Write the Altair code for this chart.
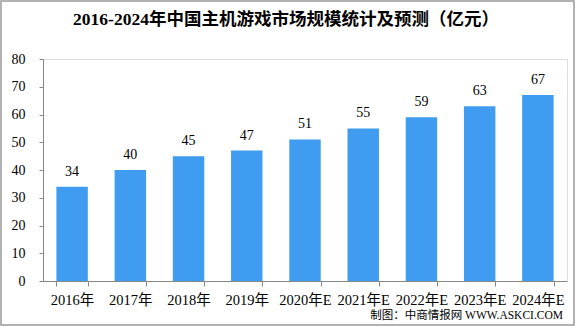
import altair as alt
import pandas as pd

years = ["2016年", "2017年", "2018年", "2019年", "2020年E", "2021年E", "2022年E", "2023年E", "2024年E"]
values = [34, 40, 45, 47, 51, 55, 59, 63, 67]
y_ticks = [0, 10, 20, 30, 40, 50, 60, 70, 80]

df = pd.DataFrame({"year": years, "value": values})

W, H = 524, 222
PL, PT, PR, PB = 43, 59, 8, 45
FONT = "Liberation Serif, Noto Sans CJK SC"

x_enc = alt.X("year:N", sort=years, title=None,
              scale=alt.Scale(paddingInner=0.46, paddingOuter=0.23),
              axis=alt.Axis(labelAngle=0, labelFont=FONT, labelFontSize=14.5, labelColor="#000",
                            tickBand="extent", tickColor="#888", domainColor="#888", tickSize=5,
                            labelPadding=7, grid=False, labelOverlap=False))
y_enc = alt.Y("value:Q", title=None,
              scale=alt.Scale(domain=[0, 80]),
              axis=alt.Axis(values=y_ticks, tickCount=9, labelFont=FONT, labelFontSize=14,
                            labelColor="#000", tickColor="#888", domainColor="#888", tickSize=4,
                            grid=False, labelPadding=14, labelOverlap=False, labelFlush=False))

base = alt.Chart(df)

bars = base.mark_bar(color="#3f9cf0").encode(x=x_enc, y=y_enc)

labels = base.mark_text(dy=-15, font=FONT, fontSize=14, color="#000").encode(
    x=x_enc, y=y_enc, text="value:Q",
)

title = alt.Chart(pd.DataFrame({"t": ["2016-2024年中国主机游戏市场规模统计及预测（亿元）"]})).mark_text(
    font=FONT, fontSize=17.5, fontWeight="bold", color="#000", align="center", baseline="middle"
).encode(x=alt.value(286 - PL), y=alt.value(20 - PT), text="t:N")

source = alt.Chart(pd.DataFrame({"t": ["制图：中商情报网 WWW.ASKCI.COM"]})).mark_text(
    font=FONT, fontSize=11.5, color="#000", align="right", baseline="middle"
).encode(x=alt.value(563 - PL), y=alt.value(316 - PT), text="t:N")

border = alt.Chart(pd.DataFrame({"a": [0]})).mark_rect(
    fill=None, stroke="#999", strokeWidth=1.5
).encode(x=alt.value(-PL + 1), x2=alt.value(575 - PL - 1), y=alt.value(-PT + 1), y2=alt.value(326 - PT - 1))

chart = alt.layer(bars, labels, title, source, border).properties(
    width=W, height=H,
    autosize=alt.AutoSizeParams(type="none"),
    padding={"left": PL, "top": PT, "right": PR, "bottom": PB},
).configure_view(stroke=None).configure(background="white")

chart.save("out.html", embed_options={"renderer": "svg", "actions": False})
